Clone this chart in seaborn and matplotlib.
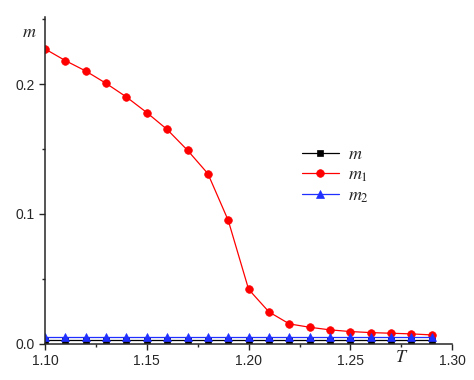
import numpy as np
import pandas as pd
import matplotlib
matplotlib.use("Agg")
import matplotlib.pyplot as plt
from matplotlib.ticker import MultipleLocator, FormatStrFormatter
import seaborn as sns

T = [1.10, 1.11, 1.12, 1.13, 1.14, 1.15, 1.16, 1.17, 1.18, 1.19,
     1.20, 1.21, 1.22, 1.23, 1.24, 1.25, 1.26, 1.27, 1.28, 1.29]
m_vals = [0.003, 0.003, 0.003, 0.003, 0.003, 0.003, 0.003, 0.003, 0.003, 0.003,
          0.003, 0.003, 0.003, 0.003, 0.003, 0.003, 0.003, 0.003, 0.003, 0.003]
m1_vals = [0.227, 0.218, 0.210, 0.2005, 0.190, 0.178, 0.165, 0.149, 0.131, 0.095,
           0.042, 0.0246, 0.0154, 0.0128, 0.0108, 0.0095, 0.0087, 0.0082, 0.0077, 0.0069]
m2_vals = [0.005, 0.005, 0.005, 0.005, 0.005, 0.005, 0.005, 0.005, 0.005, 0.005,
           0.005, 0.005, 0.005, 0.005, 0.005, 0.005, 0.005, 0.005, 0.005, 0.005]
series_names = ["$m$", "$m_1$", "$m_2$"]

df = pd.DataFrame({
    "T": T * 3,
    "value": m_vals + m1_vals + m2_vals,
    "series": [series_names[0]] * len(T) + [series_names[1]] * len(T) + [series_names[2]] * len(T),
})

sns.set_style("ticks")
plt.rcParams["font.family"] = ["Liberation Sans", "DejaVu Sans"]
plt.rcParams["mathtext.fontset"] = "stix"

fig = plt.figure(figsize=(4.74, 3.8), dpi=100)
ax = fig.add_axes([0.095, 0.095, 0.859, 0.86])

palette = {series_names[0]: "#000000", series_names[1]: "#ff0000", series_names[2]: "#1f2fff"}
markers = {series_names[0]: "s", series_names[1]: "o", series_names[2]: "^"}
sizes = {series_names[0]: 4.5, series_names[1]: 5.5, series_names[2]: 5.5}

for name in series_names:
    sub = df[df["series"] == name]
    sns.lineplot(data=sub, x="T", y="value", ax=ax, color=palette[name],
                 marker=markers[name], markersize=sizes[name], markeredgewidth=0.5,
                 markeredgecolor=palette[name], linewidth=0.9, label=name)

ax.set_xlim(1.10, 1.30)
ax.set_ylim(0.0, 0.2515)
ax.xaxis.set_major_locator(MultipleLocator(0.05))
ax.xaxis.set_minor_locator(MultipleLocator(0.025))
ax.yaxis.set_major_locator(MultipleLocator(0.1))
ax.yaxis.set_minor_locator(MultipleLocator(0.05))
ax.xaxis.set_major_formatter(FormatStrFormatter("%.2f"))
ax.yaxis.set_major_formatter(FormatStrFormatter("%.1f"))
ax.tick_params(which="major", direction="out", length=4, width=1, labelsize=10)
ax.tick_params(which="minor", direction="out", length=2.5, width=1)
for s in ["top", "right"]:
    ax.spines[s].set_visible(False)
for s in ["left", "bottom"]:
    ax.spines[s].set_linewidth(1.1)

ax.set_xlabel("")
ax.set_ylabel("")
fig.text(0.046, 0.915, "$m$", fontsize=13, ha="left", va="center")
fig.text(0.848, 0.058, "$T$", fontsize=13, ha="center", va="center")

leg = ax.legend(loc="upper left", bbox_to_anchor=(0.59, 0.655), frameon=False,
                fontsize=13, handlelength=2.1, labelspacing=0.2, handletextpad=0.5)

fig.savefig("out.png", dpi=100)
